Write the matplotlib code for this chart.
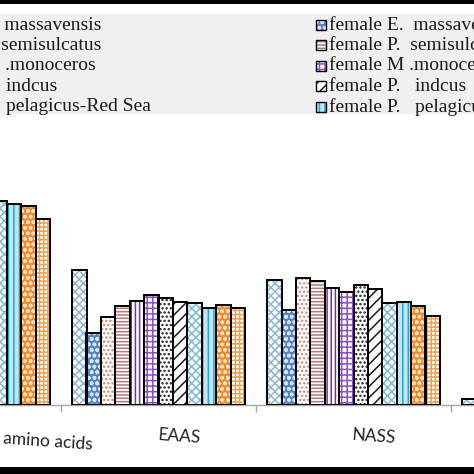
import matplotlib
matplotlib.use("Agg")
import matplotlib.pyplot as plt
from matplotlib.patches import Rectangle
from matplotlib.transforms import blended_transform_factory

# Datos (g/100 g aprox.)
grupos = ["Total of amino acids", "EAAS", "NASS", "EAAS/NASS"]
series = ["male E. massavensis", "female E.  massavensis",
          "male P. semisulcatus", "female P.  semisulcatus",
          "male M .monoceros", "female M .monoceros",
          "male P.  indcus", "female P.   indcus",
          "male P.  pelagicus-Red Sea", "female P.   pelagicus-Red Sea",
          "male P.  pelagicus", "female P.  pelagicus"]
total = [46.5, 29.9, 38.4, 39.9, 39.5, 39.7, 40.6, 39.2, 36.5, 35.9, 35.5, 33.3]
eaas = [24.1, 12.9, 15.7, 17.7, 18.6, 19.6, 19.1, 18.4, 18.2, 17.4, 17.8, 17.4]
nass = [22.4, 17.0, 22.7, 22.2, 20.9, 20.1, 21.5, 20.8, 18.3, 18.4, 17.6, 15.9]
ratio = [1.08, 0.76, 0.69, 0.80, 0.89, 0.98, 0.89, 0.88, 0.99, 0.95, 1.01, 1.09]

# estilo de cada serie: (color de fondo, trama, color de trama)
estilos = [
    ("white", "xxxx", "#8db6d6"),
    ("#5485c2", "ooo", "#d6e4f4"),
    ("white", "....", "#c9826f"),
    ("white", "-----", "#b07a78"),
    ("white", "||||", "#7a2fa8"),
    ("white", "+++", "#8e4fc2"),
    ("white", "....", "#1a1a1a"),
    ("white", "///", "#1a1a1a"),
    ("white", "xxxx", "#7fb9d3"),
    ("#bfe6f2", "|||", "#2aa3cc"),
    ("#ee8a30", "ooo", "#fbe0c0"),
    ("white", "++++", "#f0a250"),
]

W, H = 474, 474
plt.rcParams["hatch.linewidth"] = 1.1

fig = plt.figure(figsize=(W / 100, H / 100), dpi=100)

def fx(px):
    return px / W

def fy(py):
    return 1 - py / H

# ejes: linea base en y=405 px, 5.6 px por unidad
base = 405
top = 120
ax = fig.add_axes([0, fy(base), 1, (base - top) / H])
ax.set_ylim(0, (base - top) / 5.6)
ax.set_xlim(36.5 / 195, (W + 36.5) / 195)

valores = [total, eaas, nass, ratio]
ancho = 14.4 / 195
n = len(series)
for i in range(n):
    fc, trama, tc = estilos[i]
    xs = [k + (i - (n - 1) / 2) * ancho for k in range(len(grupos))]
    ys = [v[i] for v in valores]
    ax.bar(xs, ys, width=ancho, color=fc, hatch=trama, edgecolor=tc, linewidth=0, zorder=2)
    ax.bar(xs, ys, width=ancho, fill=False, edgecolor="black", linewidth=1.4, zorder=3)

for s in ["left", "right", "top"]:
    ax.spines[s].set_visible(False)
ax.spines["bottom"].set_color("#a6a6a6")
ax.spines["bottom"].set_linewidth(1.0)
ax.set_yticks([])
ax.set_xticks([0.5, 1.5, 2.5])
ax.set_xticklabels([])
ax.tick_params(axis="x", length=5, color="#a6a6a6", width=1.0)

# etiquetas de categoria, un poco inclinadas
tr = blended_transform_factory(ax.transData, ax.transAxes)
yl = (base - 437) / (base - top)
ax.text((93 + 36.5) / 195, (base - 444.5) / (base - top), grupos[0],
        transform=tr, ha="right", va="center", rotation=-4, rotation_mode="anchor",
        fontsize=12.5, family="Lato", color="#222222")
for k in range(1, len(grupos)):
    ax.text(k + 0.105, yl, grupos[k], transform=tr, ha="center", va="center",
            rotation=-4, rotation_mode="anchor", fontsize=12.5, family="Lato", color="#222222")

# franja gris de la leyenda y bordes negros
fig.add_artist(Rectangle((0, fy(114)), 1, (114 - 14) / H, transform=fig.transFigure,
                         facecolor="#f0f0f0", edgecolor="none", zorder=0))
fig.add_artist(Rectangle((0, fy(4)), 1, 4 / H, transform=fig.transFigure,
                         facecolor="black", edgecolor="none"))
fig.add_artist(Rectangle((0, 0), 1, 7 / H, transform=fig.transFigure,
                         facecolor="black", edgecolor="none"))

# leyenda a mano: dos columnas, cortada por los bordes
for j in range(10):
    fila = j // 2
    col = j % 2
    yc = 25 + 20.4 * fila
    xt = -60 if col == 0 else 329
    fc, trama, tc = estilos[j]
    fig.add_artist(Rectangle((fx(xt - 13), fy(yc + 5)), 9.5 / W, 10 / H, transform=fig.transFigure,
                             facecolor=fc, hatch=trama, edgecolor=tc, linewidth=0))
    fig.add_artist(Rectangle((fx(xt - 13), fy(yc + 5)), 9.5 / W, 10 / H, transform=fig.transFigure,
                             fill=False, edgecolor="black", linewidth=1.0))
    fig.text(fx(xt), fy(yc), series[j], ha="left", va="center", fontsize=14,
             family="Liberation Serif", color="#1a1a1a")

fig.savefig("out.png", dpi=100)
